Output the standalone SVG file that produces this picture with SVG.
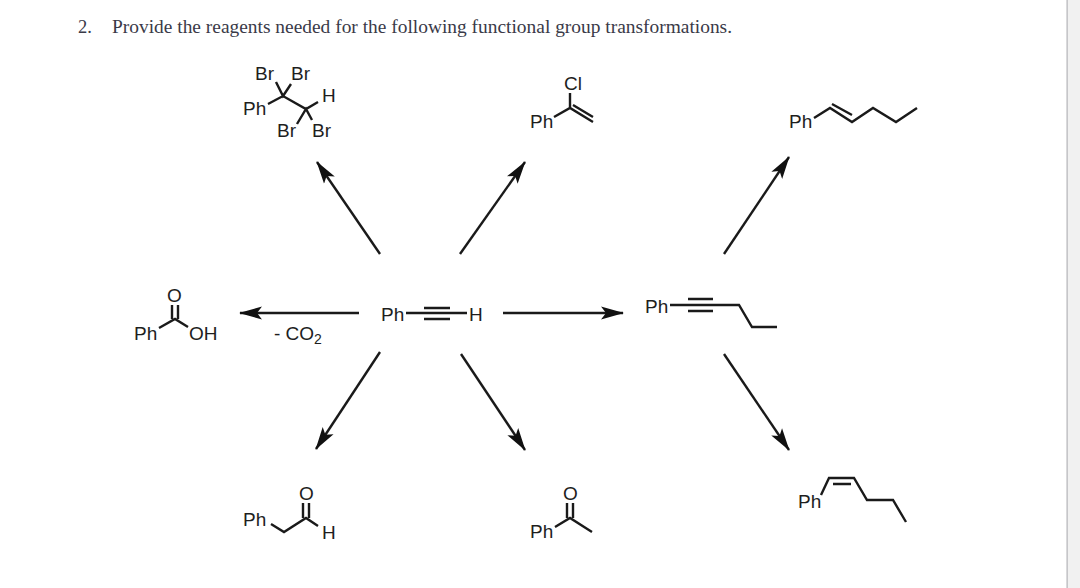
<svg xmlns="http://www.w3.org/2000/svg" width="1080" height="588" viewBox="0 0 1080 588">
<style>
text{font-family:"Liberation Sans",Arial,sans-serif;font-size:19px;fill:#1e1e1e}
.t{font-family:"Liberation Serif","Times New Roman",serif;font-size:18.5px;fill:#3a3a48}
.b{fill:none;stroke:#1a1a1a;stroke-width:2.4;stroke-linejoin:miter;stroke-linecap:butt}
.a{fill:none;stroke:#1a1a1a;stroke-width:2.4;marker-end:url(#h)}
</style>
<defs>
<marker id="h" markerUnits="userSpaceOnUse" markerWidth="24" markerHeight="14" refX="22" refY="6.5" orient="auto" viewBox="0 0 24 13">
<path d="M0 0L23 6.5L0 13L5 6.5Z" fill="#111"/>
</marker>
</defs>
<rect width="1080" height="588" fill="#fff"/>
<rect x="1067" width="13" height="588" fill="#f1f1f1"/>
<rect x="1066.5" width="1.2" height="588" fill="#b4b4b8"/>
<g id="title">
<text class="t" x="78" y="33">2.</text>
<text class="t" x="112" y="33" textLength="620" lengthAdjust="spacingAndGlyphs">Provide the reagents needed for the following functional group transformations.</text>
</g>
<g id="connectors">
<path class="a" d="M380 254L317 162"/>
<path class="a" d="M460 254L525 162"/>
<path class="a" d="M724 254L789 157"/>
<path class="a" d="M359 313L240 313"/>
<path class="a" d="M503 313L623 313"/>
<path class="a" d="M380 352L316 449"/>
<path class="a" d="M461 354L525 450"/>
<path class="a" d="M724 354L789 450"/>
</g>
<g id="tetrabromide">
<text x="255" y="80">Br</text><text x="291" y="80">Br</text><text x="322" y="102">H</text><text x="243" y="115">Ph</text><text x="277" y="137">Br</text><text x="312" y="137">Br</text>
<path class="b" d="M268 104L283 96L306 109L318 102M276 82L283 96L291 84M297 124L306 109L312 120"/>
</g>
<g id="vinyl-chloride">
<text x="564" y="90">Cl</text><text x="530" y="128">Ph</text>
<path class="b" d="M554 117L570 108L593 122M570 93L570 108M573 105L593 117"/>
</g>
<g id="e-alkene">
<text x="789" y="128">Ph</text>
<path class="b" d="M814 118L830 108L852 122L873 108L896 122L917 108M832 104L852 115"/>
</g>
<g id="benzoic-acid">
<text x="167" y="302">O</text><text x="134" y="340">Ph</text><text x="189" y="340">OH</text>
<path class="b" d="M159 328L175 319L188 327M172 305L172 319M178 305L178 319"/>
</g>
<g id="co2-label">
<text x="274" y="340">- CO<tspan font-size="14" dy="4">2</tspan></text>
</g>
<g id="phenylacetylene">
<text x="381" y="321">Ph</text><text x="469" y="321">H</text>
<path class="b" d="M406 313L467 313M424 308L450 308M424 319L450 319"/>
</g>
<g id="alkyne">
<text x="645" y="313">Ph</text>
<path class="b" d="M670 305L739 305L752 327L777 327M688 299L713 299M688 311L713 311"/>
</g>
<g id="aldehyde">
<text x="299" y="500">O</text><text x="243" y="526">Ph</text><text x="322" y="539">H</text>
<path class="b" d="M271 524L284 532L306 518L318 526M303 503L303 518M309 503L309 518"/>
</g>
<g id="ketone">
<text x="563" y="500">O</text><text x="530" y="538">Ph</text>
<path class="b" d="M555 527L570 518L592 532M567 503L567 518M573 503L573 518"/>
</g>
<g id="z-alkene">
<text x="798" y="508">Ph</text>
<path class="b" d="M821 495L829 478L854 478L867 500L893 500L906 522M833 484L851 484"/>
</g>
</svg>
